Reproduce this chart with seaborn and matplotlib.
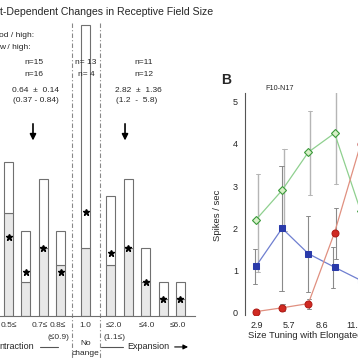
import numpy as np
import pandas as pd
import matplotlib
matplotlib.use('Agg')
import matplotlib.pyplot as plt
import seaborn as sns

sns.set_style('white')
plt.rcParams['font.family'] = ['Liberation Sans', 'DejaVu Sans']
plt.rcParams['font.size'] = 6

# ---------------- data: panel A (histogram of size changes) ----------------
bar_pos = [0, 1, 2, 3, 4.45, 5.9, 6.9, 7.9, 8.9, 9.9]
gray_counts = [6, 2, 4, 3, 4, 3, 4, 2, 1, 1]
white_counts = [3, 3, 4, 2, 13, 4, 4, 2, 1, 1]
star_vals = [4.6, 2.6, 4.0, 2.6, 6.1, 3.7, 4.0, 2.0, 1.0, 1.0]
tick_pos = [0, 1.82, 2.85, 4.45, 6.1, 7.97, 9.75]
tick_top = ['0.5\u2264', '0.7\u2264', '0.8\u2264', '1.0', '\u22642.0', '\u22644.0', '\u22646.0']
tick_sub = ['', '', '(\u22640.9)', '', '(1.1\u2264)', '', '']

# ---------------- data: panel B (size tuning) ----------------
x_pts = [2.8, 5.1, 7.4, 9.7, 12.0]
green = [2.2, 2.9, 3.8, 4.25, 2.4]
blue = [1.1, 2.0, 1.4, 1.08, 0.77]
red = [0.03, 0.12, 0.22, 1.9, 4.0]
green_err_x = [2.99, 5.3, 7.55, 9.82]
green_lo = [0.96, 1.93, 2.79, 3.05]
green_hi = [3.28, 3.87, 4.77, 5.47]
blue_err_x = [2.72, 5.05, 7.37, 9.56]
blue_lo = [0.68, 0.52, 0.5, 0.6]
blue_hi = [1.5, 3.47, 2.3, 1.55]
red_err_x = [2.9, 5.15, 7.45, 9.82]
red_lo = [0.0, 0.05, 0.1, 1.27]
red_hi = [0.07, 0.22, 0.33, 2.49]
xticks_b = [2.9, 5.7, 8.6, 11.5]

fig = plt.figure(figsize=(3.58, 3.58), dpi=100)

# ================= panel A =================
axa = fig.add_axes([0, 42 / 358, 195 / 358, 316 / 358])
axa.bar(bar_pos, gray_counts, width=0.52, color='#e8e8e8', edgecolor='#707070', linewidth=0.8)
axa.bar(bar_pos, white_counts, bottom=gray_counts, width=0.52, color='white',
        edgecolor='#707070', linewidth=0.8)
axa.plot(bar_pos, star_vals, linestyle='none', marker='*', color='black', markersize=5)
axa.set_xlim(-0.49, 10.74)
axa.set_ylim(0, 18.48)
for s in ['top', 'right', 'left']:
    axa.spines[s].set_visible(False)
axa.spines['bottom'].set_color('#707070')
axa.set_yticks([])
axa.set_xticks(bar_pos)
axa.set_xticklabels([])
axa.tick_params(axis='x', length=2, color='#707070')

for p, t, s in zip(tick_pos, tick_top, tick_sub):
    axa.text(p, -0.58, t, ha='center', va='center', color='#333333')
    if s:
        axa.text(p, -1.23, s, ha='center', va='center', color='#333333')

# dashed separators
for xd in [3.66, 5.27]:
    axa.plot([xd, xd], [17.13, -2.6], color='#888888', lw=0.8,
             linestyle=(0, (4, 2, 1, 2)), clip_on=False)

axa.text(-0.55, 16.43, 'od / high:', ha='left', va='center')
axa.text(-0.55, 15.73, 'w / high:', ha='left', va='center')
for xc, a, b in [(1.47, 'n=15', 'n=16'), (4.46, 'n= 13', 'n= 4'), (7.8, 'n=11', 'n=12')]:
    axa.text(xc, 14.85, a, ha='center', va='center')
    axa.text(xc, 14.15, b, ha='center', va='center')
axa.text(1.58, 13.16, '0.64  \u00b1  0.14', ha='center', va='center')
axa.text(1.58, 12.63, '(0.37 - 0.84)', ha='center', va='center')
axa.text(7.46, 13.16, '2.82  \u00b1  1.36', ha='center', va='center')
axa.text(7.4, 12.63, '(1.2  -  5.8)', ha='center', va='center')
for xa in [1.41, 6.71]:
    axa.annotate('', xy=(xa, 10.1), xytext=(xa, 11.4),
                 arrowprops=dict(arrowstyle='-|>', color='black', lw=1.2, mutation_scale=9))

axa.text(-0.55, -1.81, 'ntraction', ha='left', va='center', fontsize=6.5, clip_on=False)
axa.plot([1.81, 2.85], [-1.81, -1.81], color='#555555', lw=0.8, clip_on=False)
axa.text(4.46, -1.58, 'No', ha='center', va='center')
axa.text(4.46, -2.22, 'change', ha='center', va='center')
axa.plot([5.35, 6.59], [-1.81, -1.81], color='#555555', lw=0.8, clip_on=False)
axa.text(8.03, -1.81, 'Expansion', ha='center', va='center', fontsize=6.5)
axa.annotate('', xy=(10.5, -1.81), xytext=(9.41, -1.81), annotation_clip=False,
             arrowprops=dict(arrowstyle='-|>', color='black', lw=0.8, mutation_scale=7))

fig.text(0, 1 - 12 / 358, 't-Dependent Changes in Receptive Field Size',
         ha='left', va='center', fontsize=7.6)

# ================= panel B =================
axb = fig.add_axes([245 / 358, 43 / 358, 150 / 358, 222 / 358])
for ex, lo, hi, lw, col in [(green_err_x, green_lo, green_hi, 1.0, '#b5b5b5'),
                            (blue_err_x, blue_lo, blue_hi, 0.8, '#8a8a8a'),
                            (red_err_x, red_lo, red_hi, 0.8, '#8a8a8a')]:
    for xe, l, h in zip(ex, lo, hi):
        axb.plot([xe, xe], [l, h], color=col, lw=lw)
        axb.plot([xe - 0.2, xe + 0.2], [l, l], color=col, lw=0.7)
        axb.plot([xe - 0.2, xe + 0.2], [h, h], color=col, lw=0.7)

sns.lineplot(x=x_pts, y=green, ax=axb, color='#8fd08f', lw=0.9, marker='D', markersize=4,
             markerfacecolor='#d8f0c8', markeredgecolor='#3a9a3a', markeredgewidth=0.8)
sns.lineplot(x=x_pts, y=blue, ax=axb, color='#6f7fd0', lw=0.9, marker='s', markersize=3.8,
             markerfacecolor='#2a3aaa', markeredgecolor='#2a3aaa')
sns.lineplot(x=x_pts, y=red, ax=axb, color='#e09080', lw=0.9, marker='o', markersize=5,
             markerfacecolor='#d02a22', markeredgecolor='#b01a15')

axb.set_xlim(1.847, 15.0)
axb.set_ylim(-0.05, 5.2)
for s in ['top', 'right', 'bottom']:
    axb.spines[s].set_visible(False)
axb.spines['left'].set_color('#555555')
axb.spines['left'].set_linewidth(0.8)
axb.set_yticks([0, 1, 2, 3, 4, 5])
axb.set_xticks(xticks_b)
axb.set_xticklabels([f'{v:.1f}' for v in xticks_b])
axb.tick_params(axis='y', length=3, width=0.6, color='#555555', pad=2, labelsize=6.5)
axb.tick_params(axis='x', length=0, pad=4, labelsize=6.5)
axb.set_ylabel('Spikes / sec', fontsize=6.8)
axb.yaxis.set_label_coords(-0.155, 0.45)

fig.text(221 / 358, 1 - 80 / 358, 'B', fontsize=10, fontweight='bold', ha='left', va='center')
fig.text(280 / 358, 1 - 88 / 358, 'F10-N17', fontsize=5.2, ha='center', va='center')
fig.text(248 / 358, 1 - 336 / 358, 'Size Tuning with Elongated T', fontsize=6.8,
         ha='left', va='center')

fig.savefig('out.png', dpi=100)
